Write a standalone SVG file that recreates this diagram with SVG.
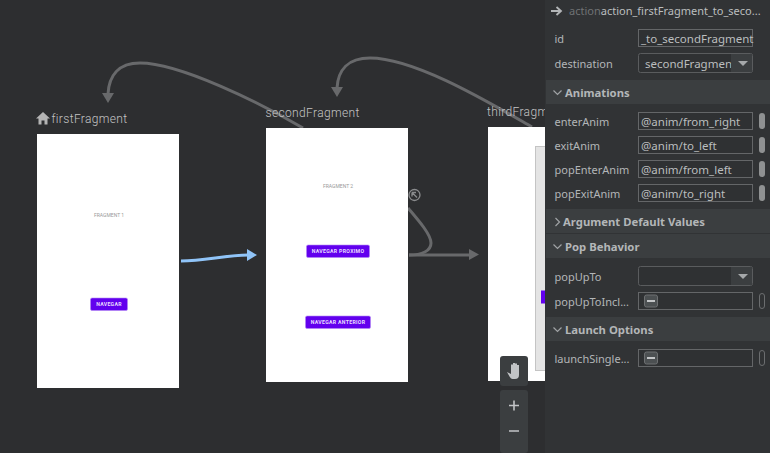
<svg xmlns="http://www.w3.org/2000/svg" width="770" height="453" viewBox="0 0 770 453">
<style>
text{font-family:"Roboto","Liberation Sans",sans-serif}
.title{font-size:12px;font-weight:300;fill:#c4c4c4;letter-spacing:.35px}
.screen{fill:#fff}
.cap{font-size:5px;fill:#9a9a9a;text-anchor:middle}
.btn{fill:#6200ee;stroke:#b388f5;stroke-width:.6}
.btnt{font-size:5.200px;font-weight:700;fill:#e8dcff;text-anchor:middle;letter-spacing:.3px}
.conn{fill:none;stroke:#68696b;stroke-width:3}
.lbl{font-family:"Noto Sans","Liberation Sans",sans-serif;font-size:11px;fill:#b3b6b8}
.val{font-family:"Noto Sans","Liberation Sans",sans-serif;font-size:11.500px;fill:#bbbebf}
.sec{font-family:"Noto Sans","Liberation Sans",sans-serif;font-size:11.300px;font-weight:700;fill:#b3b6b8}
.hdr{fill:#3b3e40}
.fld{fill:#2f3133;stroke:#646668;stroke-width:1}
.combo{fill:#2f3133;stroke:#5a5c5e;stroke-width:1}
.pill{fill:#8f9192}
.pillo{fill:none;stroke:#6b6d6f;stroke-width:1}
.chev{fill:none;stroke:#a0a3a5;stroke-width:1.200}
.arrow{fill:#a5a8aa}
.chk{fill:#4c5052;stroke:#6e7072;stroke-width:1}
.dash{fill:#c2c4c6}
</style>
<rect width="770" height="453" fill="#2d2e30"/>
<g id="connectors">
<path class="conn" d="M303 128 C260 103 180 63 140 63 C118 63 109 76 108 94"/>
<path fill="#68696b" d="M102 93 H114 L108 103Z"/>
<path class="conn" d="M532 127 C490 103 415 58 370 58 C348 58 338 70 337 88"/>
<path fill="#68696b" d="M331 87 H343 L337 97Z"/>
<path d="M181 261 C205 261 225 255 248 255" fill="none" stroke="#90c4f8" stroke-width="3"/>
<path fill="#90c4f8" d="M247 249 L257 255 L247 261Z"/>
<path class="conn" d="M409 255 H470"/>
<path fill="#68696b" d="M469 249 L479 254.500 L469 260Z"/>
<path class="conn" d="M408 208 C420 222 431 235 431 243 C431 251 422 255 409 255"/>
<circle cx="414.500" cy="195" r="5.500" fill="none" stroke="#8a8b8d" stroke-width="1.300"/>
<path d="M412 192.500 H416 M412 192.500 V196.500 M412 192.500 L417 197.500" fill="none" stroke="#8a8b8d" stroke-width="1.300"/>
</g>
<g id="firstFragment">
<path d="M36 118.500 L43 112 L50 118.500 H47.500 V124.500 H44.500 V120.500 H41.500 V124.500 H38.500 V118.500Z" fill="#b4b4b4"/>
<text class="title" x="51.500" y="123">firstFragment</text>
<rect class="screen" x="37" y="134" width="142" height="254"/>
<text class="cap" x="109" y="217">FRAGMENT 1</text>
<rect class="btn" x="90.500" y="298" width="37" height="12.500" rx="1.500"/>
<text class="btnt" x="109" y="306">NAVEGAR</text>
</g>
<g id="secondFragment">
<text class="title" x="265.500" y="117">secondFragment</text>
<rect class="screen" x="266" y="128" width="142" height="254"/>
<text class="cap" x="338" y="187.500">FRAGMENT 2</text>
<rect class="btn" x="306.500" y="245" width="63" height="12.500" rx="1.500"/>
<text class="btnt" x="338" y="253">NAVEGAR PROXIMO</text>
<rect class="btn" x="305.500" y="316" width="65" height="12.500" rx="1.500"/>
<text class="btnt" x="338" y="324">NAVEGAR ANTERIOR</text>
</g>
<g id="thirdFragment">
<text class="title" x="487" y="116">thirdFragment</text>
<rect class="screen" x="488" y="127" width="58" height="254"/>
<rect x="535.500" y="146.500" width="11" height="224" fill="#e4e4e4" stroke="#c4c4c4"/>
<rect x="541" y="290.500" width="5" height="13" fill="#6200ee"/>
</g>
<g id="canvas-controls">
<rect x="500" y="356" width="28" height="30" rx="3" fill="#3b3e40"/>
<path d="M507 372 L511 374 V364.500 H513 V371 V363 H515 V371 V363.500 H517 V371 V365 H519 V375 Q519 379 515 379 H512.500 Q511 379 509.500 376.500Z" fill="#c2c4c6"/>
<rect x="500" y="390" width="28" height="63" rx="3" fill="#3b3e40"/>
<path d="M509 405.500 H519 M514 400.500 V410.500 M509 431 H519" stroke="#c2c4c6" stroke-width="1.600" fill="none"/>
</g>
<g id="attributes-panel">
<rect x="545" y="0" width="225" height="453" fill="#313335"/>
<path d="M551 11 H560 M556.500 7 L561 11 L556.500 15" fill="none" stroke="#b3b6b8" stroke-width="1.800"/>
<text class="val" x="569" y="15" style="font-size:11px"><tspan fill="#6f7274">action</tspan>action_firstFragment_to_seco...</text>
<text class="lbl" x="554.500" y="43">id</text>
<rect class="fld" x="638.500" y="29.500" width="114" height="17"/>
<text class="val" x="641" y="43">_to_secondFragment</text>
<text class="lbl" x="554.500" y="68">destination</text>
<rect class="combo" x="638.500" y="53.500" width="114" height="19" rx="2"/>
<text class="val" x="645" y="68">secondFragmen</text>
<rect x="731" y="54" width="21" height="18" fill="#3b3e40"/>
<path class="arrow" d="M738 61 H748 L743 66Z"/>
<rect class="hdr" x="546" y="80" width="224" height="24"/>
<path class="chev" d="M553.500 90.500 L557.500 94.500 L561.500 90.500"/>
<text class="sec" x="565" y="97">Animations</text>
<text class="lbl" x="554.500" y="126">enterAnim</text>
<rect class="fld" x="638.500" y="112.500" width="114" height="17"/>
<text class="val" x="641" y="126">@anim/from_right</text>
<rect class="pill" x="759" y="113" width="6" height="16" rx="3"/>
<text class="lbl" x="554.500" y="150">exitAnim</text>
<rect class="fld" x="638.500" y="136.500" width="114" height="17"/>
<text class="val" x="641" y="150">@anim/to_left</text>
<rect class="pill" x="759" y="137" width="6" height="16" rx="3"/>
<text class="lbl" x="554.500" y="174">popEnterAnim</text>
<rect class="fld" x="638.500" y="160.500" width="114" height="17"/>
<text class="val" x="641" y="174">@anim/from_left</text>
<rect class="pill" x="759" y="161" width="6" height="16" rx="3"/>
<text class="lbl" x="554.500" y="198">popExitAnim</text>
<rect class="fld" x="638.500" y="184.500" width="114" height="17"/>
<text class="val" x="641" y="198">@anim/to_right</text>
<rect class="pill" x="759" y="185" width="6" height="16" rx="3"/>
<rect class="hdr" x="546" y="209" width="224" height="24"/>
<path class="chev" d="M555.500 218 L559.500 222 L555.500 226"/>
<text class="sec" x="563" y="226">Argument Default Values</text>
<rect class="hdr" x="546" y="234" width="224" height="24"/>
<path class="chev" d="M553.500 244.500 L557.500 248.500 L561.500 244.500"/>
<text class="sec" x="565" y="251">Pop Behavior</text>
<text class="lbl" x="554.500" y="281">popUpTo</text>
<rect class="combo" x="638.500" y="266.500" width="114" height="19" rx="2"/>
<rect x="731" y="267" width="21" height="18" fill="#3b3e40"/>
<path class="arrow" d="M738 274 H748 L743 279Z"/>
<text class="lbl" x="554.500" y="306">popUpToIncl...</text>
<rect class="fld" x="638.500" y="292.500" width="114" height="17"/>
<rect class="chk" x="644.500" y="295" width="13" height="12" rx="2"/>
<rect class="dash" x="647" y="300" width="8" height="2"/>
<rect class="pillo" x="759.500" y="293.500" width="5" height="15" rx="2.500"/>
<rect class="hdr" x="546" y="317" width="224" height="24"/>
<path class="chev" d="M553.500 327.500 L557.500 331.500 L561.500 327.500"/>
<text class="sec" x="565" y="334">Launch Options</text>
<text class="lbl" x="554.500" y="363">launchSingle...</text>
<rect class="fld" x="638.500" y="349.500" width="114" height="17"/>
<rect class="chk" x="644.500" y="352" width="13" height="12" rx="2"/>
<rect class="dash" x="647" y="357" width="8" height="2"/>
<rect class="pillo" x="759.500" y="350.500" width="5" height="15" rx="2.500"/>
</g>
</svg>
